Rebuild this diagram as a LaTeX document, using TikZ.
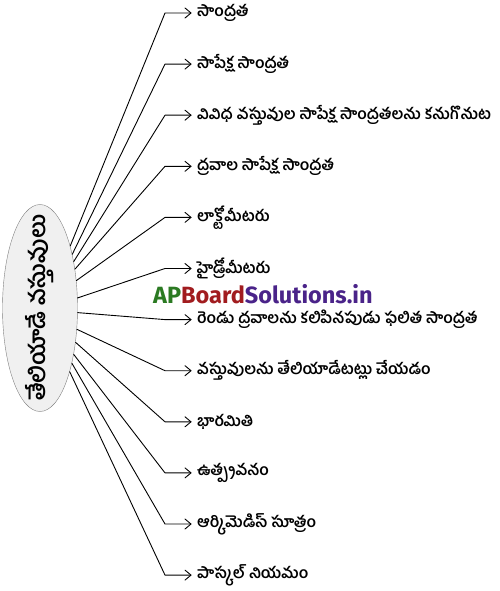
\documentclass[tikz,border=0pt]{standalone}
\usepackage{fontspec}
\usetikzlibrary{shapes.geometric}
\newfontfamily\telugu[Script=Telugu]{Hind Guntur}
\newfontfamily\wmfont{Fira Sans}

\definecolor{apgreen}{HTML}{2B7A22}
\definecolor{apred}{HTML}{A11C1F}
\definecolor{appurple}{HTML}{4A2389}

\tikzset{
  item/.style={anchor=west, inner sep=0pt, font=\telugu\bfseries\fontsize{15.5}{18}\selectfont},
  link/.style={line width=0.9pt, line join=round, line cap=round},
}

\begin{document}
\begin{tikzpicture}[x=1pt,y=1pt]
			\useasboundingbox (0,0) rectangle (499,-591);
			\node [ellipse, draw=gray, fill=gray!12, minimum width=75pt, minimum height=207pt, inner sep=0pt] (root) at (40,-308) {};
			\node [rotate=90, font=\telugu\bfseries\fontsize{22}{24}\selectfont] (title) at (root) {తేలియాడే వస్తువులు};
			
			\foreach \n/\ang/\lbl in {
					1/64/సాంద్రత,
					2/59/సాపేక్ష సాంద్రత,
					3/54/వివిధ వస్తువుల సాపేక్ష సాంద్రతలను కనుగొనుట,
					4/48/ద్రవాల సాపేక్ష సాంద్రత,
					5/37/లాక్టోమీటరు,
					6/15/హైడ్రోమీటరు,
					7/-7/రెండు ద్రవాలను కలిపినపుడు ఫలిత సాంద్రత,
					8/-30/వస్తువులను తేలియాడేటట్లు చేయడం,
					9/-44/భారమితి,
					10/-54/ఉత్ప్లవనం,
					11/-60/ఆర్కిమెడిస్ సూత్రం,
					12/-65/పాస్కల్ నియమం} {
				\coordinate (b\n) at (165,{-13-(\n-1)*51.1});
				\coordinate (e\n) at (191,{-13-(\n-1)*51.1});
				\node [item] (t\n) at (197,{-13-(\n-1)*51.1}) {\lbl};
				\draw [link] (root.\ang) -- (b\n) -- (e\n);
			}
			% arrow heads
			\foreach \n in {1,...,12}
				\draw [link] ([shift={(-6,5)}]e\n) -- (e\n) -- ([shift={(-6,-5)}]e\n);
			
			\node [anchor=base west, inner sep=0pt, font=\wmfont\bfseries\fontsize{23.5}{26}\selectfont] (wm) at (153,-303)
				{\textcolor{apgreen}{AP}\textcolor{apred}{Board}\textcolor{appurple}{Solutions.in}};
	\end{tikzpicture}
\end{document}
